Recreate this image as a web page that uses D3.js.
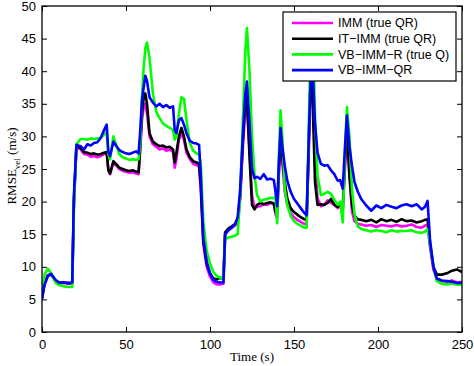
<!DOCTYPE html>
<meta charset="utf-8">
<body>
<script src="https://cdn.jsdelivr.net/npm/d3@7"></script>
<style>
    html, body {
        margin: 0;
        background: #fff;
    }
    svg text {
        font-family: "Liberation Sans", Arial, sans-serif;
    }
</style>
<script>
// time grid (s) shared by all four curves
var time = [0, 1.5, 3.5, 5.5, 8, 10, 13, 16, 18, 19, 20.5, 23, 25, 27, 29, 31, 33, 35, 37, 38.5,
    39.5, 40.5, 42.5, 44, 46, 48, 50, 52, 54, 56, 57.5, 58.5, 59.5, 60.5, 61.5, 62.5, 64, 66, 68, 70,
    72, 74, 76, 78, 79, 80, 81.5, 83, 84.5, 86, 88, 90, 92, 93.5, 94.5, 96, 98, 100, 102, 104,
    106, 108, 109, 111, 113, 115, 116.5, 118, 119.5, 121, 122, 123.5, 125, 126.5, 128, 130, 132, 134, 136, 138,
    139, 140, 141, 142, 143, 144.5, 146, 148, 150, 152, 154, 156, 157.5, 158.5, 159.5, 160.5, 161.5, 162.5, 164, 166,
    168, 170, 172, 174, 176, 177.5, 179, 180.5, 181.5, 183, 184.5, 186, 188, 190, 193, 196, 199, 202, 205, 208,
    211, 214, 217, 220, 223, 226, 228, 229.5, 231, 233, 235, 238, 241, 244, 247, 250];

var imm = [5.2, 7.5, 8.7, 8.8, 7.8, 7.5, 7.5, 7.4, 7.5, 20, 28.3, 28.0, 27.3, 27.2, 26.9, 27.0, 26.8, 27.0, 27.3, 27.4,
    25.0, 24.2, 26.0, 25.6, 25.0, 24.7, 24.6, 24.4, 24.5, 24.3, 24.2, 28, 32.5, 34.5, 35.0, 33.5, 30.0, 28.8, 28.4, 28.0,
    28.2, 27.8, 28.0, 27.6, 25.2, 26.5, 29.5, 30.5, 29.5, 27.5, 26.5, 25.8, 25.6, 25.3, 22, 13.5, 10.0, 8.5, 7.6, 7.3,
    7.3, 7.4, 15.0, 15.8, 16.0, 16.3, 16.8, 20.5, 28, 34, 34.5, 28, 21, 19.0, 19.2, 19.3, 19.6, 19.5, 19.8, 19.6,
    18, 17.5, 24, 29.0, 26, 21.5, 19.5, 18.3, 17.6, 17.2, 16.9, 16.6, 16.5, 25, 34, 39, 34, 26, 20.5, 19.3,
    19.5, 20.2, 19.8, 19.5, 19.0, 19.3, 18.5, 26, 30.0, 24, 18.5, 17.0, 16.6, 16.5, 16.3, 16.4, 16.1, 16.4, 16.3, 16.2,
    16.4, 16.2, 16.3, 16.5, 16.1, 16.0, 16.3, 16.5, 13, 9.5, 8.2, 7.8, 7.7, 7.9, 7.6, 7.7];

var itImm = [5.2, 7.5, 8.7, 8.8, 7.9, 7.6, 7.6, 7.5, 7.6, 20, 28.5, 28.2, 27.6, 27.5, 27.3, 27.4, 27.2, 27.3, 27.5, 27.6,
    24.8, 24.3, 26.2, 25.8, 25.2, 25.0, 24.8, 24.7, 24.8, 24.6, 24.5, 28.5, 33.5, 35.8, 36.6, 35.0, 30.5, 29.2, 28.8, 28.5,
    28.6, 28.3, 28.4, 28.0, 26.0, 27.5, 30.0, 31.3, 30.0, 28.0, 26.8, 26.2, 26.0, 25.8, 22.5, 14.0, 10.5, 9.0, 8.2, 8.1,
    8.3, 8.2, 15.3, 15.9, 16.2, 16.6, 17.2, 21, 29, 35.5, 36, 27, 19.5, 18.8, 19.5, 19.8, 19.6, 19.8, 19.9, 19.7,
    18.5, 18.5, 25, 30.0, 27, 23.0, 20.5, 19.0, 18.4, 18.0, 17.6, 17.3, 17.2, 26, 36, 41, 32, 23, 19.5, 19.6,
    19.5, 19.8, 20.4, 19.5, 19.2, 19.6, 19.0, 27, 31.0, 24, 19.5, 17.8, 17.3, 17.2, 17.0, 17.2, 16.8, 17.3, 17.0, 17.2,
    16.9, 17.3, 17.0, 17.1, 16.8, 17.0, 17.2, 17.3, 13.5, 10.0, 8.8, 8.8, 9.0, 9.4, 9.6, 9.2];

var vbImmR = [6.0, 8.8, 9.7, 9.0, 7.6, 7.2, 7.0, 6.9, 6.9, 19, 28.8, 29.6, 29.6, 29.5, 29.7, 29.6, 29.7, 29.8, 30.3, 30.6,
    27.2, 26.5, 30.0, 28.8, 27.3, 26.8, 26.6, 26.4, 26.5, 26.4, 26.5, 29, 36, 40.5, 43.5, 44.4, 42.0, 36.6, 33.8, 32.8,
    32.0, 31.6, 31.3, 31.0, 29.5, 30.0, 33.5, 36.0, 35.8, 32.5, 29.0, 27.8, 27.4, 27.2, 26, 17.0, 12.5, 10.5, 9.2, 8.6,
    8.3, 8.2, 14.2, 14.5, 14.6, 14.8, 15.0, 21, 32, 43, 46.6, 40, 30, 24.0, 21.0, 20.0, 20.3, 20.4, 20.6, 20.5,
    20.8, 16.7, 27, 34.0, 30, 22.0, 19.5, 17.8, 17.0, 16.6, 16.3, 16.0, 16.0, 28, 40, 49, 44, 33, 24, 21.0,
    21.2, 21.5, 21.2, 20.3, 19.5, 20.0, 16.8, 29, 34.5, 30, 22, 18.0, 16.2, 15.8, 15.6, 15.4, 15.6, 15.5, 15.3, 15.6,
    15.4, 15.5, 15.5, 15.6, 15.3, 15.2, 15.4, 15.8, 13.5, 10.0, 7.8, 7.4, 7.3, 7.4, 7.3, 7.2];

var vbImmQr = [5.0, 7.2, 8.6, 8.9, 8.0, 7.6, 7.6, 7.5, 7.6, 21, 28.7, 28.5, 28.0, 28.8, 28.6, 29.0, 29.1, 29.8, 31.0, 31.8,
    27.6, 27.0, 29.2, 28.6, 27.9, 27.6, 27.4, 27.3, 27.5, 27.7, 27.4, 31, 35.5, 37.5, 39.3, 38.5, 36.0, 35.2, 34.6, 35.0,
    34.5, 34.8, 34.4, 34.6, 31.0, 30.5, 32.5, 32.8, 31.8, 30.5, 29.3, 29.0, 28.9, 28.7, 24, 14.5, 10.8, 9.0, 8.0, 7.7,
    7.6, 7.6, 15.0, 15.6, 16.0, 16.6, 17.6, 22, 30, 36.5, 38.4, 32, 25, 23.6, 23.8, 23.5, 24.2, 23.4, 23.5, 23.3,
    21.5, 19.3, 26, 31.3, 28.5, 25.5, 23.2, 21.5, 20.4, 19.7, 19.0, 18.3, 17.9, 27, 36, 42, 38, 32, 27.5, 25.8,
    25.5, 25.6, 24.8, 24.2, 23.2, 23.3, 22.0, 29, 33.2, 28.5, 25.5, 23.0, 21.5, 20.4, 19.4, 18.6, 19.4, 19.0, 19.5, 19.2,
    19.0, 19.4, 19.6, 19.3, 19.6, 18.8, 19.2, 20.1, 14, 10.0, 8.2, 7.9, 7.8, 7.7, 7.5, 7.6];

var seriesNames = ["IMM (true QR)", "IT\u2212IMM (true QR)", "VB\u2212IMM\u2212R (true Q)", "VB\u2212IMM\u2212QR"];
var seriesColors = ["#ff00ff", "#000000", "#00ff00", "#0000ff"];
var seriesValues = [imm, itImm, vbImmR, vbImmQr];

var xTicks = [0, 50, 100, 150, 200, 250];
var yTicks = [0, 5, 10, 15, 20, 25, 30, 35, 40, 45, 50];

var width = 474, height = 366,
    margin = {top: 6, right: 12, bottom: 34, left: 42};

var svg = d3.select("body").append("svg")
    .attr("width", width)
    .attr("height", height);

var x = d3.scaleLinear().domain([0, 250]).range([margin.left, width - margin.right]),
    y = d3.scaleLinear().domain([0, 50]).range([height - margin.bottom, margin.top]);

var plot = svg.append("g");

plot.append("defs").append("clipPath").attr("id", "clip")
    .append("rect")
    .attr("x", margin.left).attr("y", margin.top)
    .attr("width", x.range()[1] - margin.left)
    .attr("height", y.range()[0] - margin.top);

var line = d3.line()
    .x(function(d, i) { return x(time[i]); })
    .y(function(d) { return y(d); });

plot.append("g").attr("clip-path", "url(#clip)")
    .selectAll("path")
    .data(seriesValues)
    .enter().append("path")
    .attr("fill", "none")
    .attr("stroke", function(d, i) { return seriesColors[i]; })
    .attr("stroke-width", 2.6)
    .attr("stroke-linejoin", "round")
    .attr("d", line);

// axes, MATLAB style: ticks inside, box on
function styleAxis(g) {
    g.select(".domain").remove();
    g.selectAll("line").attr("stroke", "#000");
    g.selectAll("text").attr("font-size", 13).attr("fill", "#000");
}

svg.append("g")
    .attr("transform", "translate(0," + y(0) + ")")
    .call(d3.axisBottom(x).tickValues(xTicks).tickSize(-5).tickPadding(8))
    .call(styleAxis);

svg.append("g")
    .attr("transform", "translate(0," + y(50) + ")")
    .call(d3.axisTop(x).tickValues(xTicks).tickSize(-5).tickFormat(""))
    .call(styleAxis);

svg.append("g")
    .attr("transform", "translate(" + x(0) + ",0)")
    .call(d3.axisLeft(y).tickValues(yTicks).tickSize(-5).tickPadding(6))
    .call(styleAxis);

svg.append("g")
    .attr("transform", "translate(" + x(250) + ",0)")
    .call(d3.axisRight(y).tickValues(yTicks).tickSize(-5).tickFormat(""))
    .call(styleAxis);

svg.append("rect")
    .attr("x", x(0)).attr("y", y(50))
    .attr("width", x(250) - x(0)).attr("height", y(0) - y(50))
    .attr("fill", "none").attr("stroke", "#000").attr("stroke-width", 1.3);

svg.append("text")
    .attr("x", (x(0) + x(250)) / 2).attr("y", 361)
    .attr("text-anchor", "middle")
    .style("font-family", "'Liberation Serif', 'Times New Roman', serif")
    .attr("font-size", 13)
    .text("Time (s)");

var ylab = svg.append("text")
    .attr("transform", "translate(16," + ((y(0) + y(50)) / 2 - 3) + ") rotate(-90)")
    .attr("text-anchor", "middle")
    .style("font-family", "'Liberation Serif', 'Times New Roman', serif")
    .attr("font-size", 13);
ylab.append("tspan").text("RMSE");
ylab.append("tspan").attr("font-size", 9).attr("dy", 4).text("vel");
ylab.append("tspan").attr("dy", -4).text(" (m/s)");

// legend
var legend = svg.append("g").attr("transform", "translate(283,12)");
legend.append("rect")
    .attr("width", 173).attr("height", 69)
    .attr("fill", "#fff").attr("stroke", "#000").attr("stroke-width", 1.2);

var item = legend.selectAll("g.item")
    .data(seriesNames)
    .enter().append("g")
    .attr("class", "item")
    .attr("transform", function(d, i) { return "translate(0," + (11 + i * 15.7) + ")"; });

item.append("line")
    .attr("x1", 9).attr("x2", 50)
    .attr("stroke", function(d, i) { return seriesColors[i]; })
    .attr("stroke-width", 2.6);

item.append("text")
    .attr("x", 55).attr("dy", "0.35em")
    .attr("font-size", 12.5)
    .text(function(d) { return d; });
</script>
